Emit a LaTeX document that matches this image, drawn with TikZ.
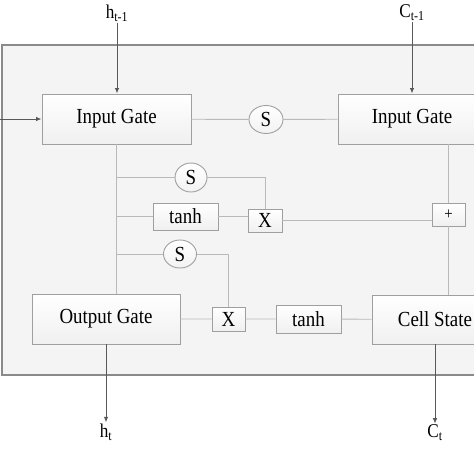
\documentclass[tikz,border=0pt]{standalone}
\usepackage{fontspec}
\setmainfont{Liberation Serif}[FakeStretch=0.88]
\usetikzlibrary{arrows.meta,shapes.geometric,shadows}
\begin{document}
\begin{tikzpicture}[x=1pt, y=-1pt,
    gatebox/.style = {draw=gray!75, line width=0.9pt, top color=white, bottom color=gray!12,
                      drop shadow={shadow xshift=1.2pt, shadow yshift=-1.2pt, opacity=0.25},
                      font=\fontsize{21.5}{23}\selectfont, inner sep=0pt},
    opbox/.style    = {gatebox},
    sigm/.style     = {ellipse, draw=gray!75, line width=0.9pt, top color=white, bottom color=gray!10,
                      font=\fontsize{21.5}{23}\selectfont, inner sep=0pt,
                      minimum width=34pt, minimum height=28pt},
    wire/.style     = {draw=gray!55, line width=0.9pt},
    flow/.style     = {draw=gray!70!black, line width=1pt, -{Latex[length=5.5pt,width=4.5pt]}},
    lab/.style      = {font=\fontsize{19.5}{21}\selectfont, inner sep=1pt}]
    \clip (0,0) rectangle (474,474);
    % frame of the cell
    \draw[draw=gray!92, fill=gray!9, line width=1.6pt] (2,45) rectangle (500,375);
    % gates
    \node[gatebox, minimum width=149pt, minimum height=50pt] (ig1) at (116.5,119) {Input Gate};
    \node[gatebox, minimum width=148pt, minimum height=50pt] (ig2) at (412,119) {Input Gate};
    \node[gatebox, minimum width=148pt, minimum height=50pt] (og) at (106,319) {Output Gate};
    \node[gatebox, minimum width=126pt, minimum height=49pt] (cs) at (435,319.5) {Cell State};
    % operations
    \node[sigm] (s1) at (266,119.5) {S};
    \node[sigm, minimum width=32pt, minimum height=29pt] (s2) at (191,177.5) {S};
    \node[sigm, minimum width=33pt] (s3) at (180,254) {S};
    \node[opbox, minimum width=65pt, minimum height=27pt] (th1) at (185.5,216.5) {tanh};
    \node[opbox, minimum width=34pt, minimum height=23pt] (x1) at (265,220.5) {X};
    \node[opbox, minimum width=33pt, minimum height=23pt, font=\fontsize{17}{19}\selectfont] (plus) at (448.5,214.5) {+};
    \node[opbox, minimum width=33pt, minimum height=24pt] (x2) at (228.5,319) {X};
    \node[opbox, minimum width=65pt, minimum height=28pt] (th2) at (308.5,319) {tanh};
    % inputs and outputs
    \node[lab] (ht1) at (117,13) {h\textsubscript{t-1}};
    \node[lab] (ct1) at (412,13) {C\textsubscript{t-1}};
    \node[lab] (ht) at (106,432) {h\textsubscript{t}};
    \node[lab] (ct) at (435,433) {C\textsubscript{t}};
    \coordinate (xin) at (0,119);
    % inner wires
    \draw[wire] (ig1) -- (s1) -- (ig2);
    \draw[wire] (ig1.south) -- (ig1.south |- og.north);
    \draw[wire] (ig1.south |- s2) -- (s2.west);
    \draw[wire] (s2.east) -| (x1.north);
    \draw[wire] (ig1.south |- th1) -- (th1.west);
    \draw[wire] (th1.east) -- (th1.east -| x1.west);
    \draw[wire] (x1.east) -- (x1.east -| plus.west);
    \draw[wire] (plus.north) -- (plus.north |- ig2.south);
    \draw[wire] (plus.south) -- (plus.south |- cs.north);
    \draw[wire] (ig1.south |- s3) -- (s3.west);
    \draw[wire] (s3.east) -| (x2.north);
    \draw[wire] (og) -- (x2) -- (th2) -- (cs);
    % arrows in and out
    \draw[flow] (ht1) -- (ht1 |- ig1.north);
    \draw[flow] (ct1) -- (ct1 |- ig2.north);
    \draw[flow] (xin) -- (ig1.west);
    \draw[flow] (og.south) -- (ht.north);
    \draw[flow] (cs.south) -- (ct.north);
\end{tikzpicture}
\end{document}
